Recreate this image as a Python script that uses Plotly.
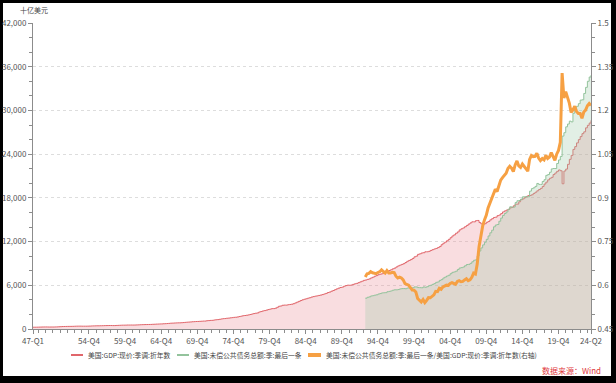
import plotly.graph_objects as go

# ---------------- data ----------------
quarters = [f"{y % 100:02d}-Q{q}" for y in range(1947, 2025) for q in range(1, 5)][:310]

# 美国:GDP:现价:季调:折年数 (十亿美元), 1947-Q1 .. 2024-Q2
gdp = [
    243.2, 246.0, 249.6, 259.7,
    265.7, 272.6, 279.2, 280.4,
    275.0, 271.4, 272.9, 270.6,
    280.8, 290.4, 308.5, 320.3,
    336.4, 344.5, 351.8, 356.2,
    359.8, 361.0, 367.7, 380.8,
    387.9, 391.1, 391.0, 385.5,
    385.4, 386.2, 391.6, 400.3,
    413.8, 422.2, 430.1, 437.5,
    439.5, 446.2, 451.7, 460.5,
    469.6, 472.8, 480.3, 475.7,
    468.4, 472.8, 486.7, 500.4,
    511.1, 524.2, 525.2, 529.3,
    543.3, 542.7, 546.0, 541.1,
    545.9, 557.4, 568.2, 581.6,
    595.2, 602.8, 609.1, 613.2,
    622.1, 629.6, 644.4, 653.9,
    669.8, 678.7, 692.0, 697.3,
    717.8, 730.2, 749.3, 771.9,
    795.7, 804.9, 819.3, 833.2,
    844.2, 848.8, 865.9, 881.9,
    909.4, 934.4, 950.8, 968.0,
    993.3, 1009.0, 1029.9, 1038.1,
    1051.2, 1067.4, 1086.1, 1088.6,
    1135.2, 1156.3, 1177.7, 1190.3,
    1230.6, 1266.4, 1290.6, 1328.9,
    1377.5, 1413.9, 1433.8, 1476.3,
    1491.2, 1530.1, 1560.0, 1599.7,
    1616.1, 1651.9, 1709.8, 1761.8,
    1820.5, 1852.3, 1886.6, 1934.3,
    1988.6, 2055.9, 2118.5, 2164.3,
    2202.8, 2331.6, 2395.1, 2476.9,
    2526.6, 2591.2, 2667.6, 2723.9,
    2789.8, 2797.4, 2856.5, 2985.6,
    3124.2, 3162.5, 3260.6, 3280.8,
    3274.3, 3331.0, 3366.3, 3402.6,
    3473.4, 3578.8, 3689.2, 3794.7,
    3908.1, 4009.6, 4084.3, 4148.6,
    4230.2, 4294.9, 4386.8, 4444.1,
    4507.9, 4545.3, 4607.7, 4657.6,
    4722.2, 4806.2, 4884.6, 5007.0,
    5073.4, 5190.0, 5282.8, 5399.5,
    5511.3, 5612.5, 5695.4, 5747.2,
    5872.7, 5960.0, 6015.1, 6004.7,
    6035.2, 6126.9, 6205.9, 6264.5,
    6363.1, 6470.8, 6566.6, 6680.8,
    6729.5, 6808.9, 6882.1, 7013.7,
    7115.7, 7246.9, 7331.1, 7455.3,
    7522.3, 7580.9, 7683.1, 7772.6,
    7868.5, 8032.8, 8131.4, 8259.8,
    8362.7, 8518.8, 8662.8, 8765.9,
    8866.5, 8969.7, 9121.1, 9294.0,
    9411.7, 9526.2, 9686.6, 9900.2,
    10002.2, 10247.7, 10318.2, 10435.7,
    10470.2, 10599.0, 10598.0, 10660.5,
    10783.5, 10887.5, 10984.0, 11061.4,
    11174.1, 11312.8, 11566.7, 11772.2,
    11923.4, 12112.8, 12305.3, 12527.2,
    12767.3, 12922.7, 13142.9, 13324.2,
    13599.2, 13753.4, 13870.2, 14039.6,
    14215.7, 14402.1, 14564.1, 14715.1,
    14706.5, 14865.7, 14898.1, 14608.2,
    14430.9, 14381.2, 14448.9, 14651.0,
    14764.6, 14980.2, 15141.6, 15309.5,
    15351.4, 15557.5, 15647.7, 15842.3,
    16068.8, 16207.1, 16319.5, 16420.4,
    16629.1, 16699.6, 16911.1, 17133.1,
    17144.3, 17462.7, 17743.2, 17852.5,
    18021.0, 18193.7, 18307.0, 18332.1,
    18425.3, 18611.6, 18775.5, 18968.0,
    19148.2, 19304.5, 19561.9, 19894.8,
    20155.5, 20470.2, 20687.3, 20819.3,
    21200.0, 21410.0, 21640.0, 21830.0,
    21720.0, 19935.0, 21685.0, 21950.0,
    22600.0, 23290.0, 23830.0, 24650.0,
    25030.0, 25545.0, 25995.0, 26410.0,
    26814.0, 27063.0, 27610.0, 27957.0,
    28269.0, 28629.0,
]

# 美国:未偿公共债务总额:季:最后一条 (十亿美元), 1993-Q1 .. 2024-Q2
debt_start = "93-Q1"
debt = [
    4230.6, 4352.0, 4411.5, 4535.7,
    4575.9, 4645.8, 4692.7, 4800.2,
    4864.1, 4951.4, 4973.9, 4988.7,
    5117.8, 5161.1, 5224.8, 5323.2,
    5380.9, 5376.2, 5413.1, 5502.4,
    5542.4, 5547.9, 5526.2, 5614.2,
    5651.6, 5638.8, 5656.3, 5776.1,
    5773.4, 5685.9, 5674.2, 5662.2,
    5773.7, 5726.8, 5807.5, 5943.4,
    6006.0, 6126.5, 6228.2, 6405.7,
    6460.8, 6670.1, 6783.2, 6998.0,
    7131.1, 7274.3, 7379.1, 7596.1,
    7776.9, 7836.5, 7932.7, 8170.4,
    8371.2, 8420.0, 8507.0, 8680.2,
    8849.7, 8867.7, 9007.7, 9229.2,
    9437.6, 9492.0, 10024.7, 10699.8,
    11126.9, 11545.3, 11909.8, 12311.4,
    12773.1, 13201.8, 13561.6, 14025.2,
    14270.0, 14343.1, 14790.3, 15222.9,
    15582.1, 15855.5, 16066.2, 16432.7,
    16771.6, 16738.2, 16738.2, 17352.0,
    17601.2, 17632.6, 17824.1, 18141.4,
    18152.1, 18151.0, 18150.6, 18922.2,
    19264.9, 19381.6, 19573.4, 19976.8,
    19846.4, 19844.6, 20244.9, 20492.9,
    21089.9, 21195.1, 21516.1, 21974.1,
    22028.0, 22023.3, 22719.4, 23201.4,
    23686.9, 26477.2, 26945.4, 27747.8,
    28132.6, 28529.4, 28428.9, 29617.2,
    30400.9, 30568.6, 30928.9, 31419.7,
    31458.4, 32332.3, 33167.3, 34001.5,
    34586.5, 34831.6,
]

# 美国:未偿公共债务总额/美国:GDP (右轴) — the ratio of the two series above
i0 = quarters.index(debt_start)
debt_gdp_ratio = [round(d / g, 4) for d, g in zip(debt, gdp[i0:])]

x_tick_labels = ["47-Q1", "54-Q4", "59-Q4", "64-Q4", "69-Q4", "74-Q4", "79-Q4", "84-Q4",
                 "89-Q4", "94-Q4", "99-Q4", "04-Q4", "09-Q4", "14-Q4", "19-Q4", "24-Q2"]
y2_tick_vals = [0.45, 0.6, 0.75, 0.9, 1.05, 1.2, 1.35, 1.5]
y2_tick_text = ["0.45", "0.6", "0.75", "0.9", "1.05", "1.2", "1.35", "1.5"]

names = ["美国:GDP:现价:季调:折年数",
         "美国:未偿公共债务总额:季:最后一条",
         "美国:未偿公共债务总额:季:最后一条/美国:GDP:现价:季调:折年数(右轴)"]
colors = ["#e0666b", "#93c39c", "#f6a043"]

# ---------------- figure ----------------
x_all = list(range(len(gdp)))
x_debt = list(range(i0, i0 + len(debt)))
tick_vals = [quarters.index(t) for t in x_tick_labels]
minor_vals = [i for i, q in enumerate(quarters) if q.endswith("Q4")]

FONT = "Noto Sans CJK SC"
AX = "#8c8c8c"
TXT = "#555555"

# plot area in pixels
PL, PR, PT, PB = 33, 591, 23, 329
PW, PH = PR - PL, PB - PT


def px(xp):
    return (xp - PL) / PW


def py(yp):
    return (PB - yp) / PH


fig = go.Figure()
fig.add_trace(go.Scatter(
    x=x_all, y=gdp, name=names[0], mode="lines", showlegend=False,
    line=dict(color=colors[0], width=1, shape="hv"),
    fill="tozeroy", fillcolor="rgba(235,142,152,0.30)",
))
fig.add_trace(go.Scatter(
    x=x_debt, y=debt, name=names[1], mode="lines", showlegend=False,
    line=dict(color=colors[1], width=1, shape="hv"),
    fill="tozeroy", fillcolor="rgba(158,202,168,0.30)",
))
fig.add_trace(go.Scatter(
    x=x_debt, y=debt_gdp_ratio, name=names[2], mode="lines", yaxis="y2", showlegend=False,
    line=dict(color=colors[2], width=3),
))

# legend drawn as line samples + text (one row, as in the reference)
legend_line_x = [(71, 83), (177, 189), (308, 321)]
legend_widths = [2, 2, 4]
legend_y = 355
shapes = [dict(type="rect", xref="paper", yref="paper", layer="below",
               x0=px(3), x1=px(611), y0=py(376), y1=py(3),
               fillcolor="white", line=dict(width=0))]
annotations = []
for (x0, x1), w, c, n in zip(legend_line_x, legend_widths, colors, names):
    shapes.append(dict(type="line", xref="paper", yref="paper", x0=px(x0), x1=px(x1),
                       y0=py(legend_y), y1=py(legend_y), line=dict(color=c, width=w)))
    annotations.append(dict(text=n, xref="paper", yref="paper", x=px(x1 + 3), y=py(legend_y),
                            xanchor="left", yanchor="middle", showarrow=False,
                            font=dict(family=FONT, size=6.8, color="#444444")))

annotations += [
    dict(text="十亿美元", xref="paper", yref="paper", x=px(34), y=py(10),
         xanchor="center", yanchor="middle", showarrow=False,
         font=dict(family=FONT, size=7, color="#444444")),
    dict(text="数据来源：Wind", xref="paper", yref="paper", x=px(603), y=py(370),
         xanchor="right", yanchor="middle", showarrow=False,
         font=dict(family=FONT, size=8, color="#e0383c")),
]

fig.update_layout(
    width=616, height=383, autosize=False,
    margin=dict(l=PL, r=616 - PR, t=PT, b=383 - PB, pad=0, autoexpand=False),
    paper_bgcolor="black", plot_bgcolor="white",
    font=dict(family=FONT, size=8, color=TXT),
    showlegend=False,
    xaxis=dict(
        range=[0, len(gdp) - 1], tickmode="array", tickvals=tick_vals, ticktext=x_tick_labels,
        ticks="outside", ticklen=4, tickcolor=AX, showline=True, linecolor=AX, linewidth=1,
        showgrid=False, zeroline=False, tickfont=dict(size=8, color=TXT), automargin=False,
        minor=dict(tickmode="array", tickvals=minor_vals, ticks="outside", ticklen=3,
                   tickcolor=AX, showgrid=False),
    ),
    yaxis=dict(
        range=[0, 42000], tick0=0, dtick=6000, tickformat=",", ticks="outside", ticklen=4,
        tickcolor=AX, showline=True, linecolor=AX, linewidth=1, zeroline=False,
        showgrid=True, gridcolor="#dddddd", griddash="dot", gridwidth=1, automargin=False,
        tickfont=dict(size=8, color=TXT),
        minor=dict(tick0=0, dtick=2000, ticks="outside", ticklen=3, tickcolor=AX, showgrid=False),
    ),
    yaxis2=dict(
        overlaying="y", side="right", range=[0.45, 1.5], tickmode="array",
        tickvals=y2_tick_vals, ticktext=y2_tick_text, ticks="outside", ticklen=4,
        tickcolor=AX, showline=True, linecolor=AX, linewidth=1, showgrid=False, zeroline=False,
        tickfont=dict(size=8, color=TXT), automargin=False,
        minor=dict(tick0=0.45, dtick=0.05, ticks="outside", ticklen=3, tickcolor=AX, showgrid=False),
    ),
    shapes=shapes,
    annotations=annotations,
)

fig.write_html("out.html", config={"displayModeBar": False},
               post_script="document.body.style.margin='0';document.body.style.overflow='hidden';")
